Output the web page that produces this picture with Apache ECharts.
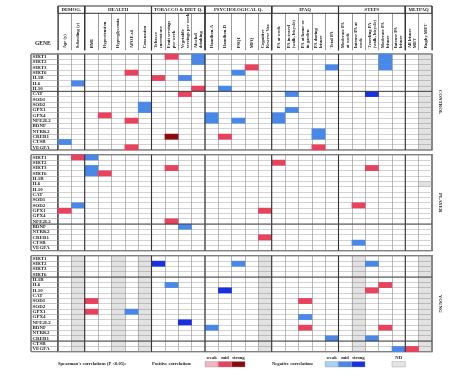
<!DOCTYPE html>
<html>
<head>
<meta charset="utf-8">
<script src="https://cdn.jsdelivr.net/npm/echarts@6/dist/echarts.min.js"></script>
<style>
  html, body { margin: 0; padding: 0; background: #fff; }
  #main { width: 474px; height: 376px; }
</style>
</head>
<body>
<div id="main"></div>
<script>
const genes = ['SIRT1', 'SIRT2', 'SIRT3', 'SIRT6', 'IL1B', 'IL6', 'IL10', 'CAT', 'SOD1', 'SOD2',
  'GPX1', 'GPX4', 'NFE2L2', 'BDNF', 'NTRK2', 'CREB1', 'CTSB', 'VEGFA'];
const columns = ['Age (y)', 'Schooling (y)', 'BMI', 'Hypertension', 'Hyperglycemia', 'APOE ε4', 'Concussion',
  'Tobacco\ncurrent use', 'Fruit servings\nper week', 'Vegetable\nservings per week', 'Alcohol\ndrinking',
  'Hamilton-A', 'Hamilton-D', 'PSQI', 'MFQ', 'Cognitive\nReserve Var.',
  'PA at work', 'PA in travel\n(walk, bicycle)', 'PA at home or\nin garden', 'PA during\nleisure', 'Total PA',
  'Moderate PA\nat work', 'Intense PA at\nwork', 'Traveling PA\n(walk, bicycle)', 'Moderate PA\nleisure', 'Intense PA\nleisure',
  'All leisure\nMET', 'Rugby MET'];
const groupNames = ['DEMOG.', 'HEALTH', 'TOBACCO & DIET Q.', 'PSYCHOLOGICAL Q.', 'IPAQ', 'STEPS', 'MLTPAQ'];
const groupSizes = [2, 5, 4, 5, 5, 5, 2];
const panels = ['CONTROL', 'PLAYER', 'YOUNG'];

// [column index, gene, level]   level: +-1 weak, +-2 mid, +-3 strong
const controlCells = [
  [8, 'SIRT1', 2], [10, 'SIRT1', -2], [24, 'SIRT1', -2],
  [10, 'SIRT2', -2], [24, 'SIRT2', -2],
  [14, 'SIRT3', 2], [20, 'SIRT3', -2], [24, 'SIRT3', -2],
  [5, 'SIRT6', 2], [13, 'SIRT6', -2],
  [7, 'IL1B', 2], [9, 'IL1B', -2],
  [1, 'IL6', -2],
  [10, 'IL10', 2], [12, 'IL10', -2],
  [9, 'CAT', 2], [17, 'CAT', -2], [23, 'CAT', -3],
  [6, 'SOD2', -2],
  [6, 'GPX1', -2], [17, 'GPX1', -2],
  [3, 'GPX4', 2], [11, 'GPX4', -2], [16, 'GPX4', -2],
  [5, 'NFE2L2', 2], [11, 'NFE2L2', -2], [13, 'NFE2L2', -2], [16, 'NFE2L2', -2],
  [19, 'NTRK2', -2],
  [8, 'CREB1', 3], [12, 'CREB1', 2], [19, 'CREB1', -2],
  [0, 'CTSB', -2],
  [5, 'VEGFA', 2], [19, 'VEGFA', 2]
];
const playerCells = [
  [1, 'SIRT1', 2], [2, 'SIRT1', -2],
  [16, 'SIRT2', 2],
  [2, 'SIRT3', -2], [8, 'SIRT3', 2], [23, 'SIRT3', 2],
  [2, 'SIRT6', -2], [3, 'SIRT6', 2],
  [1, 'SOD2', -2], [22, 'SOD2', 2],
  [0, 'GPX1', 2], [15, 'GPX1', 2],
  [8, 'NFE2L2', 2],
  [9, 'BDNF', -2],
  [15, 'CREB1', 2],
  [22, 'CTSB', -2]
];
const youngCells = [
  [7, 'SIRT2', -3], [13, 'SIRT2', -2], [23, 'SIRT2', -2],
  [8, 'IL6', -2], [24, 'IL6', 2],
  [12, 'IL10', -3], [23, 'IL10', 2],
  [2, 'SOD1', 2], [18, 'SOD1', 2],
  [2, 'GPX1', 2], [5, 'GPX1', -2],
  [18, 'GPX4', -2],
  [9, 'NFE2L2', -3],
  [11, 'BDNF', -2], [18, 'BDNF', 2], [24, 'BDNF', 2],
  [20, 'CREB1', -2], [23, 'CREB1', -2],
  [25, 'VEGFA', -2], [26, 'VEGFA', 2]
];
// not determined
const ndColumns = [[27], [], [1, 4, 6, 15, 22, 27]];
const ndCells = [[], [[27, 'IL6']], []];
// darker row separators (line above these genes)
const rowBreaks = [['CAT'], ['BDNF'], ['IL1B', 'CTSB']];

const levels = ['weak', 'mid', 'strong'];
const posColors = ['#f4b4c1', '#e8425d', '#8b0a0f'];
const negColors = ['#a8d2f2', '#4a88e8', '#1830e0'];
const ndColor = 'rgba(140,140,140,0.25)';
const ND = 9;

const FONT = '"Liberation Serif", "DejaVu Serif", serif';
const LEFT = 58, RIGHT = 42, LABEL_LEFT = 31, LABEL_W = 27;
const tops = [54, 154.7, 255.7], PANEL_H = 96;
const STRIP_H = 7.3;

const groupStarts = groupSizes.map((s, i) => groupSizes.slice(0, i).reduce((a, b) => a + b, 0));
const allCells = [controlCells, playerCells, youngCells];

const chart = echarts.init(document.getElementById('main'), null, { renderer: 'canvas' });

const grid = [{ left: LEFT, right: RIGHT, top: 13.3, height: 37 }];
const xAxis = [{
  gridIndex: 0, type: 'category', data: columns,
  axisLine: { show: false }, axisTick: { show: false },
  axisLabel: {
    inside: true, rotate: 90, interval: 0, margin: 2,
    fontFamily: FONT, fontWeight: 'bold', fontSize: 4.6, lineHeight: 5, color: '#222'
  },
  splitLine: { show: true, interval: 0, lineStyle: { color: '#555', width: 0.6 } }
}];
const yAxis = [{ gridIndex: 0, type: 'value', min: 0, max: 1, show: false }];
const series = [{
  type: 'custom', xAxisIndex: 0, yAxisIndex: 0, z: 10, silent: true,
  data: groupStarts.map(s => [s, 0]),
  renderItem: (params, api) => {
    const i = params.dataIndex;
    const cs = params.coordSys;
    const bw = api.size([1, 0])[0];
    const x0 = api.coord([groupStarts[i], 0])[0] - bw / 2;
    const w = groupSizes[i] * bw;
    const top = cs.y - STRIP_H, bottom = cs.y + cs.height;
    return {
      type: 'group',
      children: [
        { type: 'rect', shape: { x: x0, y: top, width: w, height: STRIP_H },
          style: { fill: 'none', stroke: '#333', lineWidth: 1 } },
        { type: 'text', style: { text: groupNames[i], x: x0 + w / 2, y: top + STRIP_H / 2 + 0.3,
          align: 'center', verticalAlign: 'middle', fontFamily: FONT, fontWeight: 'bold', fontSize: 4.8, fill: '#222' } },
        { type: 'line', shape: { x1: x0, y1: top, x2: x0, y2: bottom }, style: { stroke: '#333', lineWidth: 1.1 } },
        { type: 'line', shape: { x1: x0 + w, y1: top, x2: x0 + w, y2: bottom }, style: { stroke: '#333', lineWidth: 1.1 } }
      ]
    };
  }
}];

const heatmapIdx = [];
panels.forEach((name, p) => {
  const gl = grid.length, gc = gl + 1;
  grid.push({ left: LABEL_LEFT, width: LABEL_W, top: tops[p], height: PANEL_H,
    show: true, borderColor: '#333', borderWidth: 1 });
  grid.push({ left: LEFT, right: RIGHT, top: tops[p], height: PANEL_H,
    show: true, borderColor: '#333', borderWidth: 1.2 });

  xAxis.push({ gridIndex: gl, type: 'category', data: [''], show: false });
  xAxis.push({
    gridIndex: gc, type: 'category', data: columns,
    axisLine: { show: false }, axisTick: { show: false }, axisLabel: { show: false },
    splitLine: { show: true, interval: 0, lineStyle: { color: '#8c8c8c', width: 0.6 } }
  });
  yAxis.push({
    gridIndex: gl, type: 'category', data: genes, inverse: true,
    axisLine: { show: false }, axisTick: { show: false },
    axisLabel: { inside: true, margin: 1.5, interval: 0, fontFamily: FONT, fontWeight: 'bold', fontSize: 5, color: '#222' },
    splitLine: { show: true, interval: 0, lineStyle: { color: '#999', width: 0.6 } },
    name: p === 0 ? 'GENE' : '', nameLocation: 'start', nameGap: 7,
    nameTextStyle: { align: 'left', padding: [0, 0, 0, 4], fontFamily: FONT, fontWeight: 'bold', fontSize: 5.5, color: '#222' }
  });
  yAxis.push({
    gridIndex: gc, type: 'category', data: genes, inverse: true, position: 'right',
    axisLine: { show: false }, axisTick: { show: false }, axisLabel: { show: false },
    splitLine: { show: true, interval: 0, lineStyle: { color: '#b3b3b3', width: 0.6 } },
    name: name, nameLocation: 'middle', nameRotate: -90, nameGap: 6,
    nameTextStyle: { fontFamily: FONT, fontWeight: 'bold', fontSize: 4.8, color: '#222' }
  });

  const data = [];
  ndColumns[p].forEach(c => genes.forEach(g => data.push([c, g, ND])));
  ndCells[p].forEach(([c, g]) => data.push([c, g, ND]));
  allCells[p].forEach(d => data.push(d));
  heatmapIdx.push(series.length);
  series.push({
    type: 'heatmap', xAxisIndex: gc, yAxisIndex: gc, data: data,
    itemStyle: { borderWidth: 0 }, emphasis: { disabled: true }, silent: true
  });

  const lines = groupStarts.slice(1).map(s => ['v', s]).concat(rowBreaks[p].map(g => ['h', genes.indexOf(g)]));
  series.push({
    type: 'custom', xAxisIndex: gc, yAxisIndex: gc, z: 10, silent: true,
    data: lines.map(l => [0, 0]),
    renderItem: (params, api) => {
      const [kind, k] = lines[params.dataIndex];
      const cs = params.coordSys;
      if (kind === 'v') {
        const x = api.coord([k, 0])[0] - api.size([1, 0])[0] / 2;
        return { type: 'line', shape: { x1: x, y1: cs.y, x2: x, y2: cs.y + cs.height },
          style: { stroke: '#333', lineWidth: 1.1 } };
      }
      const y = api.coord([0, k])[1] - api.size([0, 1])[1] / 2;
      return { type: 'line', shape: { x1: cs.x - LABEL_W, y1: y, x2: cs.x + cs.width, y2: y },
        style: { stroke: '#444', lineWidth: 1 } };
    }
  });
});

// legend
const legendText = (text, x, y, align) => ({
  type: 'text', x: x, y: y,
  style: { text: text, align: align || 'left', verticalAlign: 'middle', fontFamily: FONT, fontWeight: 'bold', fontSize: 4.6, fill: '#222' }
});
const graphic = [
  legendText("Spearman's correlations (P <0.05):", 58, 364),
  legendText('Positive correlation:', 152, 364),
  legendText('Negative correlation:', 272, 364)
];
const cellW = 13.35;
[[205, posColors], [325, negColors]].forEach(([x0, cols]) => {
  cols.forEach((c, i) => {
    graphic.push({ type: 'rect', shape: { x: x0 + i * cellW, y: 361.5, width: cellW, height: 5.5 },
      style: { fill: c, stroke: '#999', lineWidth: 0.4 } });
    graphic.push(legendText(levels[i], x0 + i * cellW + cellW / 2, 357.5, 'center'));
  });
});
graphic.push({ type: 'rect', shape: { x: 392, y: 361.5, width: cellW, height: 5.5 },
  style: { fill: '#e4e4e4', stroke: '#999', lineWidth: 0.4 } });
graphic.push(legendText('ND', 392 + cellW / 2, 357.5, 'center'));

const pieces = [
  { value: -3, color: negColors[2] }, { value: -2, color: negColors[1] }, { value: -1, color: negColors[0] },
  { value: 1, color: posColors[0] }, { value: 2, color: posColors[1] }, { value: 3, color: posColors[2] },
  { value: ND, color: ndColor }
];

chart.setOption({
  animation: false,
  grid: grid,
  xAxis: xAxis,
  yAxis: yAxis,
  visualMap: { type: 'piecewise', show: false, dimension: 2, seriesIndex: heatmapIdx, pieces: pieces },
  graphic: graphic,
  series: series
});
</script>
</body>
</html>
